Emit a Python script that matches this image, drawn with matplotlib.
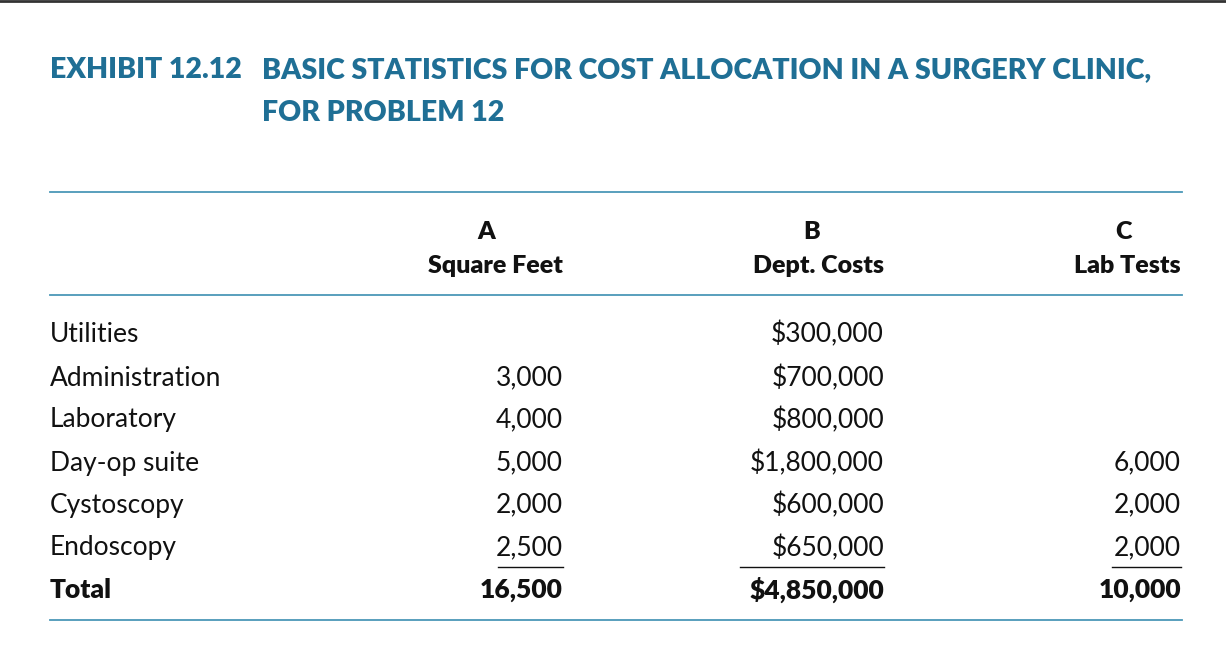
import matplotlib
matplotlib.use("Agg")
import matplotlib.pyplot as plt

rows = ["Utilities", "Administration", "Laboratory", "Day-op suite", "Cystoscopy", "Endoscopy"]
sqft = ["", "3,000", "4,000", "5,000", "2,000", "2,500"]
costs = ["$300,000", "$700,000", "$800,000", "$1,800,000", "$600,000", "$650,000"]
labs = ["", "", "", "6,000", "2,000", "2,000"]
totals = ["16,500", "$4,850,000", "10,000"]
col_letters = ["A", "B", "C"]
col_names = ["Square Feet", "Dept. Costs", "Lab Tests"]

W, H = 1226, 663
fig = plt.figure(figsize=(W/100, H/100), dpi=100)
FONT = ["Lato", "DejaVu Sans"]
TEAL = "#1f6f95"
LINE = "#4b97b8"
BW = "heavy"

def T(x, y, s, **kw):
    kw.setdefault("family", FONT)
    fig.text(x/W, 1-y/H, s, **kw)

def L(x0, x1, y, c=LINE, lw=1.3):
    fig.add_artist(plt.Line2D([x0/W, x1/W], [1-y/H, 1-y/H], color=c, lw=lw))

L(0, W, 1, c="#333333", lw=2)
T(50, 70, "EXHIBIT 12.12", color=TEAL, fontsize=20.5, fontweight=BW, va="center")
T(262, 70, "BASIC STATISTICS FOR COST ALLOCATION IN A SURGERY CLINIC,", color=TEAL, fontsize=20.5, fontweight=BW, va="center")
T(262, 113, "FOR PROBLEM 12", color=TEAL, fontsize=20.5, fontweight=BW, va="center")

L(50, 1182, 192)
L(50, 1182, 295)
L(50, 1182, 620)

rights = [563, 884, 1181]
for r, let, nm in zip(rights, col_letters, col_names):
    w = {563: 153, 884: 145, 1181: 116}[r]
    T(r - w/2, 232, let, fontsize=18, fontweight=BW, ha="center", va="center", color="#111111")
    T(r, 266, nm, fontsize=18, fontweight=BW, ha="right", va="center", color="#111111")

ys = [334, 378, 420, 463, 505, 548]
for y, name, a, b, c in zip(ys, rows, sqft, costs, labs):
    T(50, y, name, fontsize=19, va="center", color="#111111")
    for r, v in zip(rights, [a, b, c]):
        T(r, y, v, fontsize=19, ha="right", va="center", color="#111111")

for x0, x1 in [(498, 563), (740, 884), (1112, 1181)]:
    L(x0, x1, 567, c="#111111", lw=1)

T(50, 590, "Total", fontsize=19, fontweight=BW, va="center", color="#111111")
for r, v in zip(rights, totals):
    T(r, 590, v, fontsize=19, fontweight=BW, ha="right", va="center", color="#111111")

fig.savefig("out.png", dpi=100)
